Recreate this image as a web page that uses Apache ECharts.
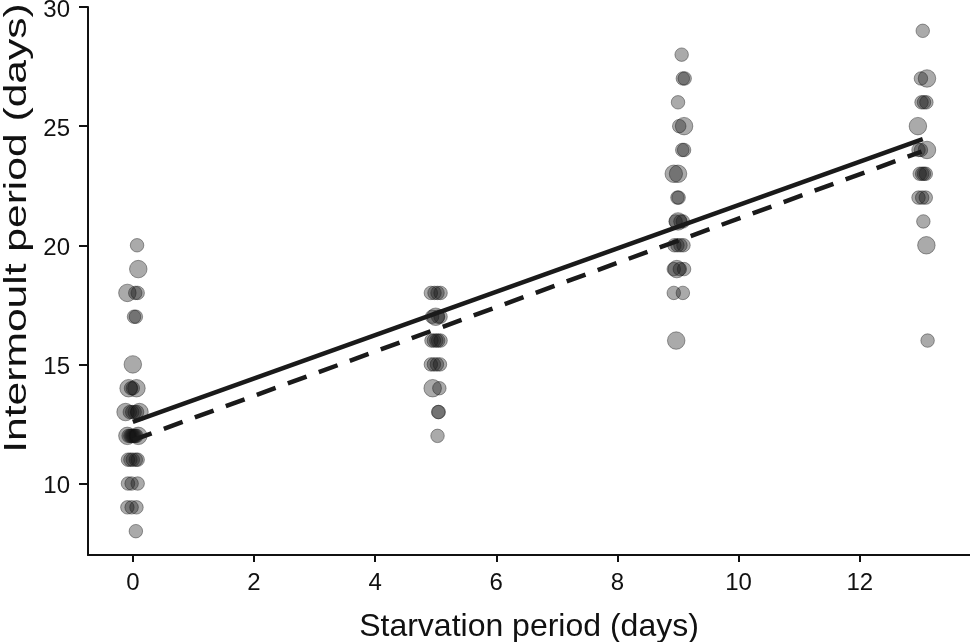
<!DOCTYPE html>
<html>
<head>
<meta charset="utf-8">
<script src="https://cdn.jsdelivr.net/npm/echarts@6/dist/echarts.min.js"></script>
<style>
html,body{margin:0;padding:0;background:#fff;}
#chart{width:970px;height:642px;}
</style>
</head>
<body>
<div id="chart"></div>
<script>
// Each point: [starvation period (jittered), intermoult period, size class (1 small, 2 large)]
const starv0 = [
  [0.07,20,1],[0.09,19,2],[-0.09,18,2],[0.04,18,1],[0.08,18,1],
  [0.02,17,1],[0.05,17,1],[0.00,15,2],
  [-0.03,14,1],[-0.07,14,2],[0.06,14,2],[0.00,14,1],
  [-0.12,13,2],[-0.05,13,1],[-0.01,13,1],[0.03,13,1],[0.07,13,1],[0.11,13,2],
  [-0.09,12,2],[-0.07,12,1],[-0.04,12,1],[-0.02,12,1],[0.00,12,1],[0.02,12,1],[0.04,12,1],[0.06,12,1],[0.09,12,2],
  [-0.08,11,1],[-0.04,11,1],[0.00,11,1],[0.05,11,1],[0.08,11,1],
  [-0.08,10,1],[-0.02,10,1],[0.08,10,1],
  [-0.09,9,1],[-0.02,9,1],[0.06,9,1],
  [0.05,8,1]
];
const starv5 = [
  [4.92,18,1],[4.98,18,1],[5.03,18,1],[5.08,18,1],
  [4.94,17,1],[5.00,17,2],[5.04,17,1],[5.08,17,1],
  [4.93,16,1],[4.97,16,1],[5.01,16,1],[5.04,16,1],[5.08,16,1],
  [4.92,15,1],[4.97,15,1],[5.02,15,1],[5.07,15,1],
  [4.95,14,2],[5.06,14,1],
  [5.04,13,1],[5.05,13,1],
  [5.03,12,1]
];
const starv9 = [
  [9.06,28,1],[9.08,27,1],[9.11,27,1],[9.00,26,1],
  [9.02,25,1],[9.10,25,2],[9.07,24,1],[9.10,24,1],
  [8.93,23,2],[9.00,23,2],[8.99,22,1],[9.01,22,1],
  [8.96,21,1],[9.00,21,2],[9.04,21,1],[9.08,21,1],
  [8.94,20,1],[8.99,20,1],[9.04,20,1],[9.09,20,1],
  [8.93,19,1],[8.98,19,2],[9.03,19,1],[9.10,19,1],
  [8.93,18,1],[9.08,18,1],
  [8.97,16,2]
];
const starv13 = [
  [13.04,29,1],[13.01,27,1],[13.11,27,2],
  [13.02,26,1],[13.06,26,1],[13.10,26,1],
  [12.96,25,2],
  [12.97,24,1],[13.01,24,1],[13.11,24,2],
  [12.99,23,1],[13.03,23,1],[13.06,23,1],[13.09,23,1],
  [12.97,22,1],[13.03,22,1],[13.09,22,1],
  [13.05,21,1],[13.10,20,2],[13.12,16,1]
];
// Fitted lines (start, end)
const fitSolid  = [[0,12.59],[13.04,24.45]];
const fitDashed = [[0,11.82],[13.02,23.93]];
const xTicks = [0,2,4,6,8,10,12];
const yTicks = [10,15,20,25,30];
const xTitle = 'Starvation period (days)';
const yTitle = 'Intermoult period (days)';

const allPoints = starv0.concat(starv5, starv9, starv13);
const chart = echarts.init(document.getElementById('chart'));
const font = 'Liberation Sans, Arial, Helvetica, sans-serif';
chart.setOption({
  animation:false,
  backgroundColor:'#ffffff',
  grid:{left:88,right:0,top:7,bottom:87,containLabel:false,outerBoundsMode:'none'},
  graphic:[{
    type:'text',
    rotation:Math.PI/2, scaleX:1.33, scaleY:1,
    x:17, y:228,
    style:{text:yTitle, fill:'#111', font:'32px ' + font, align:'center', verticalAlign:'middle'}
  }],
  xAxis:{
    type:'value', min:-0.74, max:13.82,
    axisLine:{show:true,onZero:false,lineStyle:{color:'#111',width:2}},
    axisTick:{show:true,length:7,lineStyle:{color:'#111',width:2},customValues:xTicks},
    axisLabel:{color:'#111',fontSize:24,fontFamily:font,margin:16,customValues:xTicks},
    splitLine:{show:false},
    name:xTitle, nameLocation:'middle', nameGap:56,
    nameTextStyle:{color:'#111',fontSize:32,fontFamily:font}
  },
  yAxis:{
    type:'value', min:7, max:30,
    axisLine:{show:true,onZero:false,lineStyle:{color:'#111',width:2}},
    axisTick:{show:true,length:9,lineStyle:{color:'#111',width:2},customValues:yTicks},
    axisLabel:{color:'#111',fontSize:24,fontFamily:font,margin:18,verticalAlign:'top',lineHeight:6,customValues:yTicks},
    splitLine:{show:false}
  },
  series:[
    {
      type:'scatter',
      data:allPoints,
      symbolSize:function(v){return v[2]===2?17.5:13.5;},
      itemStyle:{color:'rgba(20,20,20,0.45)',borderColor:'rgba(20,20,20,0.5)',borderWidth:1},
      z:2
    },
    {
      type:'line', data:fitSolid, symbol:'none',
      lineStyle:{color:'#1a1a1a',width:4.5,type:'solid',cap:'butt'}, z:5
    },
    {
      type:'line', data:fitDashed, symbol:'none',
      lineStyle:{color:'#1a1a1a',width:4.5,type:[20,13],cap:'butt'}, z:5
    }
  ]
});
</script>
</body>
</html>
